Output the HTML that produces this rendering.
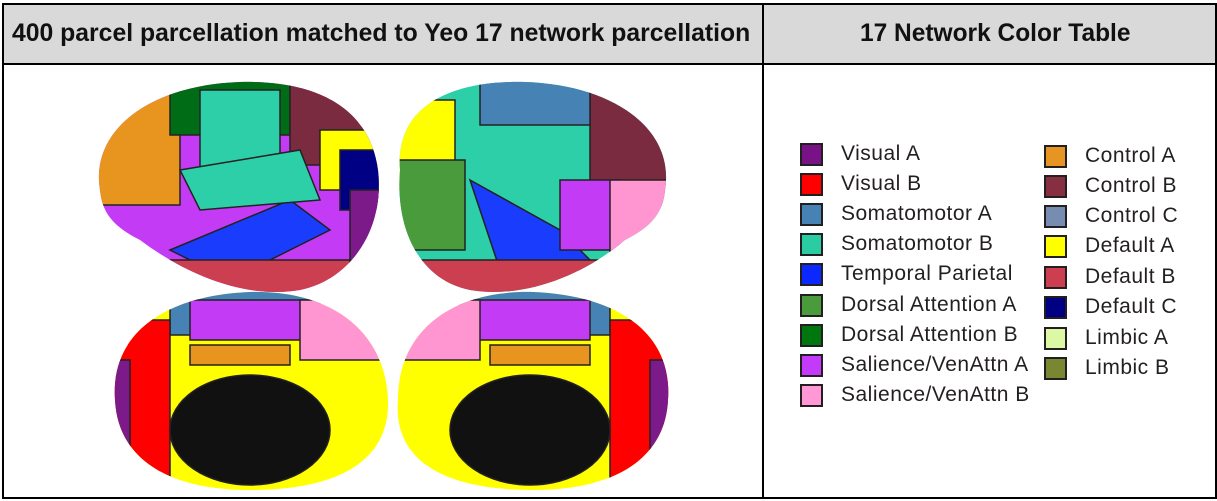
<!DOCTYPE html>
<html><head><meta charset="utf-8"><style>
body{margin:0;background:#fff;width:1217px;height:501px;overflow:hidden;font-family:"Liberation Sans",sans-serif}
#box{position:absolute;left:2px;top:3px;width:1211px;height:492px;border:2px solid #000}
#hd{position:absolute;left:0;top:0;width:1211px;height:58px;background:#d9d9d9;border-bottom:2px solid #000}
#div{position:absolute;left:758px;top:0;width:2px;height:492px;background:#000}
.h{position:absolute;top:14px;font-weight:bold;font-size:25px;white-space:nowrap;color:#111;transform-origin:0 0}
.sw{position:absolute;width:19px;height:19px;border:2px solid #231f20}
.t{position:absolute;font-size:21px;letter-spacing:0.5px;color:#231f20;white-space:nowrap}
</style></head><body>
<div id="box"><div id="hd"></div><div id="div"></div>
<div class="h" style="left:8px;transform:scaleX(0.99)">400 parcel parcellation matched to Yeo 17 network parcellation</div>
<div class="h" style="left:856px;transform:scaleX(0.98)">17 Network Color Table</div>
</div>
<svg style="position:absolute;left:0;top:0" width="760" height="501">
<defs>
<clipPath id="a"><path d="M100,190 C90,130 150,85 240,82 C320,80 370,110 378,170 C385,230 350,280 300,290 C240,300 180,270 140,240 C110,225 102,210 100,190Z"/></clipPath>
<clipPath id="b"><path d="M665,190 C675,130 615,85 525,82 C445,80 395,110 400,170 C395,230 420,280 470,290 C530,300 590,270 625,240 C655,225 663,210 665,190Z"/></clipPath>
<clipPath id="c"><path d="M115,400 C110,330 170,295 250,292 C330,290 385,330 388,400 C390,460 340,490 250,490 C170,490 118,460 115,400Z"/></clipPath>
<clipPath id="d"><path d="M668,400 C673,330 613,295 533,292 C453,290 398,330 398,400 C393,460 443,490 533,490 C613,490 665,460 668,400Z"/></clipPath>
</defs>
<g clip-path="url(#a)" stroke="#222" stroke-width="1.5">
<rect x="90" y="75" width="300" height="230" fill="#c43bf5"/>
<rect x="90" y="75" width="90" height="130" fill="#e8951f"/>
<rect x="170" y="75" width="120" height="60" fill="#006c16"/>
<rect x="200" y="90" width="80" height="90" fill="#2ccfa8"/>
<rect x="290" y="75" width="100" height="90" fill="#7b2b3f"/>
<rect x="320" y="130" width="60" height="60" fill="#ffff00"/>
<rect x="340" y="150" width="40" height="60" fill="#000084"/>
<path d="M170,250 L290,200 L330,230 L230,280 Z" fill="#1a3cfc"/>
<path d="M180,170 L300,150 L320,200 L200,210Z" fill="#2ccfa8"/>
<rect x="90" y="260" width="300" height="50" fill="#cc3f50"/>
<rect x="350" y="190" width="40" height="80" fill="#7c1a8a"/>
</g>
<g clip-path="url(#b)" stroke="#222" stroke-width="1.5">
<rect x="390" y="75" width="290" height="230" fill="#2ccfa8"/>
<rect x="590" y="75" width="90" height="130" fill="#7b2b3f"/>
<rect x="480" y="75" width="110" height="50" fill="#4682b4"/>
<rect x="395" y="100" width="60" height="90" fill="#ffff00"/>
<rect x="395" y="160" width="70" height="90" fill="#4a9b3c"/>
<path d="M470,180 L560,230 L600,270 L500,270Z" fill="#1a3cfc"/>
<rect x="560" y="180" width="60" height="70" fill="#c43bf5"/>
<rect x="610" y="180" width="70" height="80" fill="#ff96d2"/>
<rect x="390" y="260" width="290" height="50" fill="#cc3f50"/>
</g>
<g clip-path="url(#c)" stroke="#222" stroke-width="1.5">
<rect x="110" y="285" width="290" height="210" fill="#ffff00"/>
<rect x="170" y="285" width="150" height="50" fill="#4682b4"/>
<rect x="190" y="300" width="120" height="40" fill="#c43bf5"/>
<rect x="300" y="300" width="90" height="60" fill="#ff96d2"/>
<rect x="110" y="320" width="60" height="170" fill="#ff0000"/>
<rect x="110" y="360" width="20" height="90" fill="#7c1a8a"/>
<rect x="190" y="345" width="100" height="20" fill="#e8951f"/>
<ellipse cx="250" cy="430" rx="80" ry="55" fill="#111"/>
</g>
<g clip-path="url(#d)" stroke="#222" stroke-width="1.5">
<rect x="390" y="285" width="290" height="210" fill="#ffff00"/>
<rect x="460" y="285" width="150" height="50" fill="#4682b4"/>
<rect x="470" y="300" width="120" height="40" fill="#c43bf5"/>
<rect x="400" y="300" width="80" height="60" fill="#ff96d2"/>
<rect x="610" y="320" width="60" height="170" fill="#ff0000"/>
<rect x="650" y="360" width="20" height="90" fill="#7c1a8a"/>
<rect x="490" y="345" width="100" height="20" fill="#e8951f"/>
<ellipse cx="530" cy="430" rx="80" ry="55" fill="#111"/>
</g>
</svg>
<div class="sw" style="left:800px;top:143px;background:#781286"></div><div class="t" style="left:841px;top:142px">Visual A</div>
<div class="sw" style="left:800px;top:173px;background:#ff0000"></div><div class="t" style="left:841px;top:172px">Visual B</div>
<div class="sw" style="left:800px;top:203px;background:#4682b4"></div><div class="t" style="left:841px;top:202px">Somatomotor A</div>
<div class="sw" style="left:800px;top:233px;background:#2acca4"></div><div class="t" style="left:841px;top:232px">Somatomotor B</div>
<div class="sw" style="left:800px;top:263px;background:#0a28ff"></div><div class="t" style="left:841px;top:262px">Temporal Parietal</div>
<div class="sw" style="left:800px;top:294px;background:#4a9b3c"></div><div class="t" style="left:841px;top:293px">Dorsal Attention A</div>
<div class="sw" style="left:800px;top:324px;background:#00760e"></div><div class="t" style="left:841px;top:323px">Dorsal Attention B</div>
<div class="sw" style="left:800px;top:354px;background:#c43afa"></div><div class="t" style="left:841px;top:353px">Salience/VenAttn A</div>
<div class="sw" style="left:800px;top:384px;background:#ff98d5"></div><div class="t" style="left:841px;top:383px">Salience/VenAttn B</div>
<div class="sw" style="left:1044px;top:145px;background:#e69422"></div><div class="t" style="left:1085px;top:144px">Control A</div>
<div class="sw" style="left:1044px;top:175px;background:#872f42"></div><div class="t" style="left:1085px;top:174px">Control B</div>
<div class="sw" style="left:1044px;top:205px;background:#778cb0"></div><div class="t" style="left:1085px;top:204px">Control C</div>
<div class="sw" style="left:1044px;top:235px;background:#ffff00"></div><div class="t" style="left:1085px;top:234px">Default A</div>
<div class="sw" style="left:1044px;top:266px;background:#cd3e50"></div><div class="t" style="left:1085px;top:265px">Default B</div>
<div class="sw" style="left:1044px;top:296px;background:#000082"></div><div class="t" style="left:1085px;top:295px">Default C</div>
<div class="sw" style="left:1044px;top:327px;background:#dcf8a4"></div><div class="t" style="left:1085px;top:326px">Limbic A</div>
<div class="sw" style="left:1044px;top:357px;background:#7a8732"></div><div class="t" style="left:1085px;top:356px">Limbic B</div>
</body></html>
